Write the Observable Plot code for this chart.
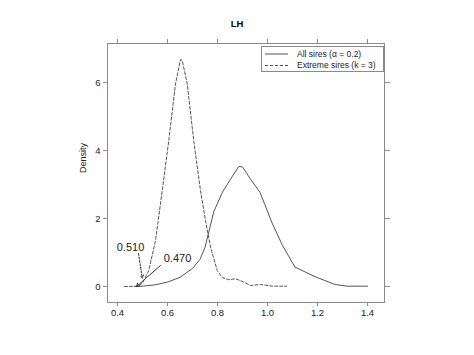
<!DOCTYPE html>
<html>
<head>
<meta charset="utf-8">
<script src="https://cdn.jsdelivr.net/npm/d3@7"></script>
<script src="https://cdn.jsdelivr.net/npm/@observablehq/plot@0.6"></script>
<style>
  html, body { margin: 0; padding: 0; background: #fff; }
  svg { font-family: "Liberation Sans", Arial, sans-serif; }
</style>
</head>
<body>
<div id="chart"></div>
<script>
const title = "LH";
const yLabel = "Density";
const seriesNames = ["All sires (\u03b1 = 0.2)", "Extreme sires (k = 3)"];

const allX = [0.47, 0.50, 0.55, 0.60, 0.65, 0.70, 0.73, 0.75, 0.765, 0.785, 0.82, 0.86, 0.885, 0.90, 0.93, 0.97, 1.02, 1.06, 1.11, 1.19, 1.27, 1.32, 1.40];
const allY = [0.00, 0.01, 0.05, 0.13, 0.27, 0.53, 0.80, 1.15, 1.60, 2.20, 2.78, 3.25, 3.53, 3.52, 3.18, 2.77, 1.84, 1.21, 0.57, 0.29, 0.06, 0.01, 0.01];

const extX = [0.428, 0.48, 0.50, 0.525, 0.552, 0.579, 0.605, 0.632, 0.652, 0.659, 0.679, 0.705, 0.732, 0.752, 0.772, 0.799, 0.819, 0.845, 0.872, 0.905, 0.932, 0.972, 1.019, 1.076];
const extY = [0.00, 0.01, 0.10, 0.47, 1.35, 2.82, 4.29, 5.96, 6.68, 6.65, 5.96, 4.29, 2.82, 1.94, 1.16, 0.47, 0.26, 0.20, 0.23, 0.13, 0.03, 0.06, 0.01, 0.01];

const xTicks = [0.4, 0.6, 0.8, 1.0, 1.2, 1.4];
const yTicks = [0, 2, 4, 6];

// annotations: label, label position, arrow start, arrow tip
const annLabels = ["0.510", "0.470"];
const annTextX = [0.452, 0.64];
const annTextY = [1.15, 0.82];
const annFromX = [0.484, 0.572];
const annFromY = [0.97, 0.62];
const annToX = [0.499, 0.476];
const annToY = [0.25, 0.0];
const annDash = ["3,2", null];

const allData = allX.map((x, i) => ({x, y: allY[i]}));
const extData = extX.map((x, i) => ({x, y: extY[i]}));
const ann = annLabels.map((t, i) => ({t, tx: annTextX[i], ty: annTextY[i], x1: annFromX[i], y1: annFromY[i], x2: annToX[i], y2: annToY[i], dash: annDash[i]}));

const lineColor = "#555";
const frameColor = "#8a8a8a";
const textColor = "#222";

const plot = Plot.plot({
  width: 474,
  height: 355,
  marginLeft: 107,
  marginRight: 90,
  marginTop: 43,
  marginBottom: 53,
  style: {fontFamily: "Liberation Sans, Arial, sans-serif", color: textColor, background: "#fff"},
  x: {domain: [0.36, 1.468], ticks: xTicks},
  y: {domain: [-0.47, 7.15], ticks: yTicks},
  marks: [
    Plot.frame({stroke: frameColor}),
    Plot.axisX(xTicks, {anchor: "bottom", tickSize: 4, tickPadding: 3, fontSize: 9.5, tickFormat: d => d.toFixed(1), stroke: frameColor, label: null}),
    Plot.axisX(xTicks, {anchor: "top", tickSize: 5, tickFormat: () => "", stroke: frameColor, label: null}),
    Plot.axisY(yTicks, {anchor: "left", tickSize: 4, tickPadding: 3, fontSize: 9.5, stroke: frameColor, label: null}),
    Plot.axisY(yTicks, {anchor: "right", tickSize: 5, tickFormat: () => "", stroke: frameColor, label: null}),
    Plot.line(allData, {x: "x", y: "y", stroke: lineColor, strokeWidth: 1}),
    Plot.line(extData, {x: "x", y: "y", stroke: lineColor, strokeWidth: 1, strokeDasharray: "3,2"}),
    Plot.arrow(ann.filter(d => d.dash), {x1: "x1", y1: "y1", x2: "x2", y2: "y2", stroke: "#333", strokeWidth: 1, headLength: 5, strokeDasharray: "2,1.5"}),
    Plot.arrow(ann.filter(d => !d.dash), {x1: "x1", y1: "y1", x2: "x2", y2: "y2", stroke: "#333", strokeWidth: 1, headLength: 5}),
    Plot.text(ann, {x: "tx", y: "ty", text: "t", fontSize: 11, fill: textColor}),
    Plot.text([title], {frameAnchor: "top", dx: -9, dy: -23, fontSize: 9.5, fontWeight: "bold", fill: "#000"}),
    Plot.text([yLabel], {frameAnchor: "left", dx: -24, rotate: -90, fontSize: 9, fill: textColor})
  ]
});

// legend (top-right, inside plot area)
const svg = d3.select(plot);
const lg = svg.append("g").attr("font-family", "Liberation Sans, Arial, sans-serif").attr("text-anchor", "start");
lg.append("rect").attr("x", 261.5).attr("y", 46.5).attr("width", 122).attr("height", 25)
  .attr("fill", "#fff").attr("stroke", frameColor);
const dashes = [null, "3,2"];
seriesNames.forEach((name, i) => {
  const yy = 54 + i * 11.5;
  lg.append("line").attr("x1", 265).attr("x2", 288).attr("y1", yy).attr("y2", yy)
    .attr("stroke", lineColor).attr("stroke-dasharray", dashes[i]);
  lg.append("text").attr("x", 297).attr("y", yy).attr("dy", "0.35em")
    .attr("text-anchor", "start")
    .attr("font-size", 8.5).attr("fill", textColor).text(name);
});

document.getElementById("chart").appendChild(plot);
</script>
</body>
</html>
